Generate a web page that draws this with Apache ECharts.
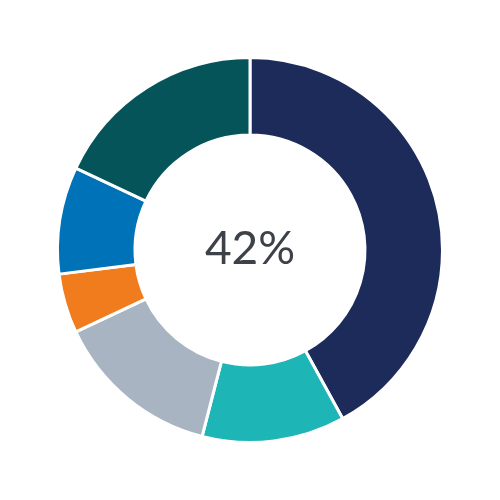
<!DOCTYPE html>
<html>
<head>
<meta charset="utf-8">
<script src="https://cdn.jsdelivr.net/npm/echarts@6/dist/echarts.min.js"></script>
<style>
html,body{margin:0;padding:0;background:#fff;}
#pie{width:500px;height:500px;}
</style>
</head>
<body>
<div id="pie"></div>
<script>
var names = ['Navy', 'Teal', 'Gray', 'Orange', 'Blue', 'Green'];
var values = [42, 12, 14, 5, 9, 18];
var colors = ['#1c2b5a', '#1db5b5', '#a9b4c2', '#f07c1e', '#0072b8', '#04545a'];
var centerLabel = '42%';

var pieChart = echarts.init(document.getElementById('pie'));
var data = names.map(function (n, i) {
  return { value: values[i], name: n, itemStyle: { color: colors[i] } };
});
var option = {
  animation: false,
  graphic: [
    {
      type: 'text',
      left: 'center',
      top: 226,
      style: {
        text: centerLabel,
        font: 'normal 46px Lato',
        fill: '#3d4148'
      }
    }
  ],
  series: [
    {
      type: 'pie',
      center: ['50%', '50%'],
      radius: ['46%', '77%'],
      startAngle: 90,
      clockwise: true,
      label: { show: false },
      labelLine: { show: false },
      itemStyle: { borderColor: '#fff', borderWidth: 3 },
      data: data
    }
  ]
};
pieChart.setOption(option);
</script>
</body>
</html>
